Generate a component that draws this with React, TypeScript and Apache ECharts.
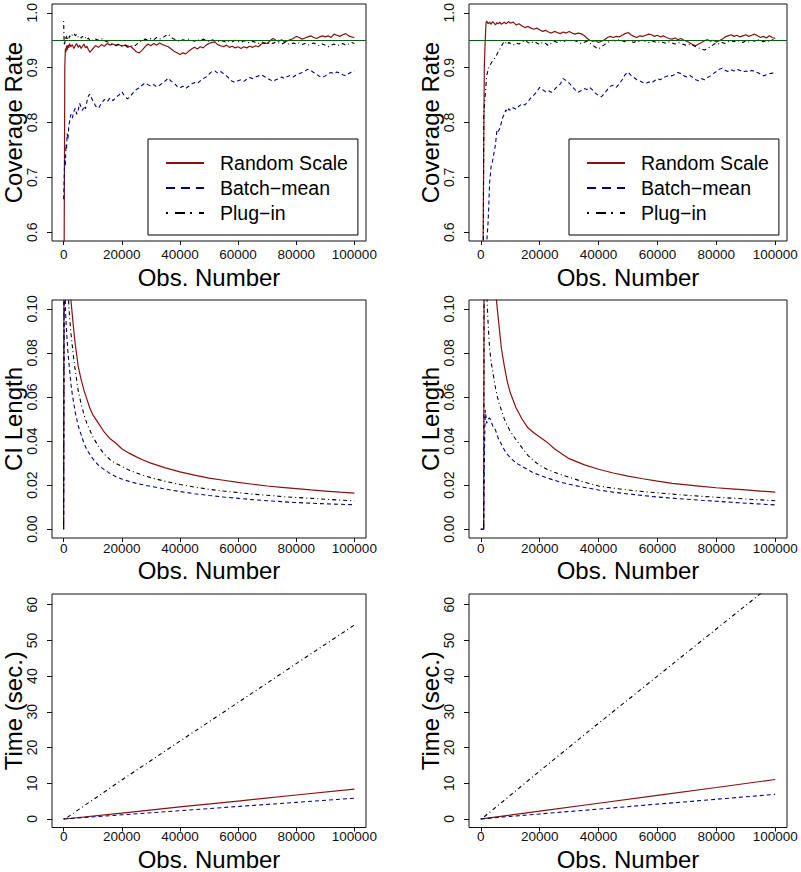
import React, { useEffect, useRef } from "react";
import * as echarts from "echarts";

// ---------- axes ----------
const xTicks = [0, 20000, 40000, 60000, 80000, 100000];
const coverageTicks = [0.6, 0.7, 0.8, 0.9, 1.0];
const ciTicks = [0, 0.02, 0.04, 0.06, 0.08, 0.1];
const timeTicks = [0, 10, 20, 30, 40, 50, 60];
const seriesNames = ["Random Scale", "Batch\u2212mean", "Plug\u2212in"];
const targetCoverage = 0.95;

// ---------- coverage panels ----------
const obsCoverage = [
  0, 200, 400, 600, 800, 1000, 1200, 1500, 1800, 2000,
  2500, 3000, 3500, 4000, 4500, 5000, 5500, 6000, 6500, 7000,
  7500, 8000, 8500, 9000, 9500, 10000,
  11000, 12000, 13000, 14000, 15000, 16000, 17000, 18000, 19000, 20000,
  21000, 22000, 23000, 24000, 25000, 26000, 27000, 28000, 29000, 30000,
  31000, 32000, 33000, 34000, 35000, 36000, 37000, 38000, 39000, 40000,
  41000, 42000, 43000, 44000, 45000, 46000, 47000, 48000, 49000, 50000,
  51000, 52000, 53000, 54000, 55000, 56000, 57000, 58000, 59000, 60000,
  61000, 62000, 63000, 64000, 65000, 66000, 67000, 68000, 69000, 70000,
  71000, 72000, 73000, 74000, 75000, 76000, 77000, 78000, 79000, 80000,
  81000, 82000, 83000, 84000, 85000, 86000, 87000, 88000, 89000, 90000,
  91000, 92000, 93000, 94000, 95000, 96000, 97000, 98000, 99000, 100000,
];

const covLeftRandomScale = [
  0.40, 0.60, 0.90, 0.935, 0.928, 0.940, 0.932, 0.941, 0.936, 0.944,
  0.938, 0.942, 0.935, 0.940, 0.944, 0.937, 0.941, 0.935, 0.939, 0.943,
  0.936, 0.939, 0.933, 0.928, 0.931, 0.934,
  0.940, 0.937, 0.942, 0.939, 0.944, 0.941, 0.943, 0.940, 0.942, 0.939,
  0.941, 0.937, 0.939, 0.934, 0.929, 0.927, 0.932, 0.938, 0.943, 0.940,
  0.944, 0.941, 0.945, 0.942, 0.940, 0.938, 0.934, 0.930, 0.927, 0.924,
  0.927, 0.925, 0.930, 0.934, 0.937, 0.934, 0.938, 0.936, 0.941, 0.944,
  0.946, 0.947, 0.942, 0.940, 0.938, 0.941, 0.937, 0.939, 0.936, 0.938,
  0.935, 0.938, 0.936, 0.939, 0.937, 0.940, 0.938, 0.943, 0.945, 0.944,
  0.949, 0.953, 0.950, 0.948, 0.951, 0.947, 0.949, 0.951, 0.953, 0.957,
  0.955, 0.952, 0.954, 0.956, 0.958, 0.955, 0.953, 0.956, 0.958, 0.956,
  0.958, 0.955, 0.961, 0.959, 0.957, 0.960, 0.962, 0.958, 0.956, 0.955,
];
const covLeftBatchMean = [
  0.66, 0.70, 0.74, 0.72, 0.76, 0.75, 0.78, 0.77, 0.795, 0.800,
  0.815, 0.808, 0.820, 0.826, 0.815, 0.822, 0.835, 0.828, 0.822, 0.830,
  0.825, 0.838, 0.848, 0.852, 0.846, 0.840,
  0.830, 0.826, 0.835, 0.842, 0.838, 0.845, 0.840, 0.846, 0.850, 0.856,
  0.848, 0.843, 0.848, 0.855, 0.860, 0.863, 0.868, 0.872, 0.869, 0.866,
  0.869, 0.865, 0.868, 0.872, 0.876, 0.881, 0.875, 0.872, 0.866, 0.863,
  0.866, 0.862, 0.866, 0.870, 0.873, 0.871, 0.876, 0.880, 0.883, 0.888,
  0.893, 0.894, 0.890, 0.893, 0.889, 0.885, 0.880, 0.875, 0.873, 0.876,
  0.878, 0.875, 0.879, 0.882, 0.880, 0.883, 0.885, 0.887, 0.884, 0.881,
  0.878, 0.875, 0.878, 0.880, 0.883, 0.880, 0.884, 0.886, 0.883, 0.887,
  0.889, 0.891, 0.894, 0.897, 0.895, 0.891, 0.888, 0.884, 0.882, 0.885,
  0.889, 0.891, 0.889, 0.892, 0.890, 0.887, 0.885, 0.889, 0.892, 0.894,
];
const covLeftPlugIn = [
  0.985, 0.940, 0.945, 0.955, 0.950, 0.958, 0.952, 0.956, 0.953, 0.958,
  0.955, 0.960, 0.963, 0.958, 0.961, 0.956, 0.958, 0.954, 0.957, 0.953,
  0.955, 0.951, 0.954, 0.950, 0.952, 0.949,
  0.952, 0.950, 0.953, 0.949, 0.947, 0.945, 0.943, 0.941, 0.943, 0.940,
  0.942, 0.939, 0.941, 0.938, 0.942, 0.946, 0.950, 0.952, 0.950, 0.953,
  0.951, 0.955, 0.952, 0.954, 0.958, 0.961, 0.955, 0.952, 0.950, 0.948,
  0.951, 0.949, 0.952, 0.950, 0.948, 0.951, 0.949, 0.952, 0.950, 0.948,
  0.951, 0.949, 0.947, 0.950, 0.948, 0.946, 0.949, 0.947, 0.950, 0.948,
  0.946, 0.949, 0.947, 0.945, 0.948, 0.946, 0.944, 0.947, 0.945, 0.943,
  0.946, 0.944, 0.947, 0.945, 0.943, 0.946, 0.944, 0.942, 0.945, 0.943,
  0.945, 0.942, 0.944, 0.941, 0.943, 0.945, 0.942, 0.940, 0.943, 0.941,
  0.938, 0.941, 0.943, 0.940, 0.942, 0.944, 0.941, 0.943, 0.946, 0.944,
];

const covRightRandomScale = [
  0.30, 0.30, 0.30, 0.40, 0.58, 0.75, 0.90, 0.95, 0.982, 0.985,
  0.980, 0.983, 0.979, 0.984, 0.981, 0.978, 0.982, 0.980, 0.983, 0.979,
  0.981, 0.983, 0.980, 0.982, 0.984, 0.981,
  0.983, 0.978, 0.980, 0.976, 0.973, 0.975, 0.972, 0.970, 0.972, 0.969,
  0.966, 0.968, 0.965, 0.963, 0.966, 0.964, 0.962, 0.965, 0.963, 0.966,
  0.963, 0.961, 0.963, 0.962, 0.959, 0.954, 0.950, 0.948, 0.949, 0.946,
  0.948, 0.951, 0.955, 0.957, 0.955, 0.957, 0.956, 0.959, 0.962, 0.964,
  0.960, 0.957, 0.955, 0.958, 0.957, 0.959, 0.961, 0.960, 0.957, 0.959,
  0.956, 0.958, 0.955, 0.953, 0.952, 0.954, 0.951, 0.953, 0.950, 0.948,
  0.945, 0.942, 0.940, 0.943, 0.946, 0.949, 0.951, 0.948, 0.950, 0.947,
  0.949, 0.952, 0.956, 0.958, 0.960, 0.957, 0.959, 0.956, 0.958, 0.960,
  0.957, 0.959, 0.961, 0.958, 0.955, 0.957, 0.954, 0.958, 0.955, 0.953,
];
const covRightBatchMean = [
  0.30, 0.30, 0.30, 0.30, 0.30, 0.30, 0.30, 0.40, 0.50, 0.58,
  0.62, 0.69, 0.72, 0.73, 0.745, 0.76, 0.787, 0.784, 0.79, 0.80,
  0.81, 0.815, 0.823, 0.819, 0.825, 0.822,
  0.827, 0.824, 0.830, 0.834, 0.832, 0.838, 0.845, 0.850, 0.856, 0.864,
  0.860, 0.856, 0.858, 0.855, 0.860, 0.866, 0.870, 0.880, 0.876, 0.872,
  0.866, 0.860, 0.855, 0.858, 0.862, 0.860, 0.864, 0.859, 0.853, 0.849,
  0.847, 0.853, 0.860, 0.866, 0.868, 0.864, 0.870, 0.878, 0.887, 0.892,
  0.886, 0.882, 0.878, 0.876, 0.873, 0.871, 0.874, 0.872, 0.876, 0.880,
  0.878, 0.882, 0.884, 0.886, 0.885, 0.888, 0.891, 0.889, 0.885, 0.883,
  0.886, 0.882, 0.878, 0.876, 0.880, 0.878, 0.882, 0.885, 0.889, 0.893,
  0.897, 0.899, 0.895, 0.893, 0.896, 0.894, 0.897, 0.895, 0.892, 0.894,
  0.892, 0.895, 0.893, 0.891, 0.888, 0.885, 0.887, 0.889, 0.890, 0.890,
];
const covRightPlugIn = [
  0.30, 0.30, 0.30, 0.30, 0.45, 0.81, 0.83, 0.85, 0.87, 0.885,
  0.896, 0.903, 0.908, 0.912, 0.915, 0.920, 0.924, 0.930, 0.934, 0.939,
  0.944, 0.948, 0.945, 0.942, 0.946, 0.944,
  0.941, 0.945, 0.943, 0.947, 0.950, 0.946, 0.944, 0.948, 0.945, 0.942,
  0.946, 0.944, 0.940, 0.945, 0.948, 0.946, 0.949, 0.947, 0.950, 0.948,
  0.951, 0.949, 0.947, 0.944, 0.946, 0.948, 0.945, 0.941, 0.937, 0.934,
  0.938, 0.942, 0.946, 0.948, 0.950, 0.948, 0.951, 0.949, 0.947, 0.950,
  0.948, 0.946, 0.949, 0.947, 0.950, 0.948, 0.946, 0.949, 0.947, 0.945,
  0.948, 0.946, 0.944, 0.947, 0.945, 0.943, 0.946, 0.944, 0.942, 0.940,
  0.943, 0.941, 0.938, 0.936, 0.934, 0.932, 0.935, 0.938, 0.942, 0.945,
  0.943, 0.946, 0.944, 0.947, 0.949, 0.947, 0.950, 0.948, 0.946, 0.949,
  0.947, 0.950, 0.948, 0.951, 0.949, 0.947, 0.950, 0.948, 0.951, 0.949,
];

// ---------- CI length panels ----------
const obsCI = [
  0, 300, 600, 1000, 1200, 1500, 2000, 2500, 3000, 3500,
  4000, 5000, 6000, 7000, 8000, 9000, 10000, 12000, 14000, 16000,
  18000, 20000, 22500, 25000, 27500, 30000, 35000, 40000, 45000, 50000,
  55000, 60000, 65000, 70000, 75000, 80000, 85000, 90000, 95000, 100000,
];
const ciLeftRandomScale = [
  0, 0.30, 0.21, 0.164, 0.15, 0.134, 0.116, 0.104, 0.097, 0.090,
  0.084, 0.074, 0.068, 0.063, 0.059, 0.055, 0.052, 0.048, 0.044, 0.041,
  0.039, 0.0365, 0.0345, 0.0328, 0.0313, 0.030, 0.0278, 0.026, 0.0245, 0.0232,
  0.0222, 0.0212, 0.0204, 0.0196, 0.019, 0.0184, 0.0178, 0.0173, 0.0168, 0.0164,
];
const ciLeftBatchMean = [
  0, 0.16, 0.100, 0.090, 0.086, 0.080, 0.073, 0.066, 0.061, 0.057,
  0.053, 0.047, 0.043, 0.039, 0.036, 0.034, 0.032, 0.029, 0.027, 0.0252,
  0.0238, 0.0228, 0.0217, 0.0208, 0.0201, 0.0194, 0.0182, 0.0171, 0.0161, 0.0153,
  0.0146, 0.014, 0.0134, 0.0129, 0.0125, 0.0121, 0.0118, 0.0115, 0.0113, 0.0111,
];
const ciLeftPlugIn = [
  0, 0.24, 0.17, 0.13, 0.12, 0.108, 0.097, 0.089, 0.083, 0.077,
  0.072, 0.063, 0.057, 0.052, 0.048, 0.045, 0.042, 0.0375, 0.034, 0.0315,
  0.0298, 0.0285, 0.0268, 0.0255, 0.0244, 0.0234, 0.0217, 0.0203, 0.0191, 0.0181,
  0.0173, 0.0166, 0.0159, 0.0154, 0.0148, 0.0144, 0.014, 0.0136, 0.0132, 0.0129,
];
const ciRightRandomScale = [
  0, 0, 0, 0, 0.20, 0.25, 0.22, 0.19, 0.165, 0.145,
  0.13, 0.108, 0.095, 0.082, 0.074, 0.067, 0.062, 0.055, 0.050, 0.046,
  0.0438, 0.0418, 0.0395, 0.0365, 0.0342, 0.032, 0.0293, 0.0272, 0.0255, 0.0241,
  0.0229, 0.0218, 0.0208, 0.0201, 0.0194, 0.0188, 0.0183, 0.0178, 0.0173, 0.0168,
];
const ciRightBatchMean = [
  0, 0, 0, 0, 0.03, 0.054, 0.048, 0.050, 0.0505, 0.049,
  0.047, 0.045, 0.041, 0.0385, 0.036, 0.034, 0.0325, 0.030, 0.0285, 0.027,
  0.0255, 0.0245, 0.0233, 0.0222, 0.0212, 0.0204, 0.019, 0.0178, 0.0168, 0.016,
  0.0153, 0.0146, 0.0141, 0.0136, 0.0131, 0.0127, 0.0122, 0.0118, 0.0114, 0.011,
];
const ciRightPlugIn = [
  0, 0, 0, 0, 0.20, 0.15, 0.108, 0.093, 0.082, 0.076,
  0.072, 0.064, 0.058, 0.054, 0.050, 0.047, 0.0445, 0.0405, 0.037, 0.0335,
  0.031, 0.029, 0.0272, 0.0258, 0.0247, 0.0236, 0.0214, 0.0196, 0.0186, 0.0178,
  0.0171, 0.0165, 0.0159, 0.0154, 0.0149, 0.0145, 0.0141, 0.0137, 0.0133, 0.0129,
];

// ---------- time panels ----------
const obsTime = [0, 1000, 20000, 40000, 60000, 80000, 100000];
const timeLeftRandomScale = [0, 0.05, 1.65, 3.35, 5.0, 6.7, 8.35];
const timeLeftBatchMean = [0, 0.03, 1.15, 2.3, 3.5, 4.65, 5.8];
const timeLeftPlugIn = [0, 0.3, 10.9, 21.8, 32.6, 43.5, 54.3];
const timeRightRandomScale = [0, 0.1, 2.2, 4.4, 6.6, 8.8, 11.05];
const timeRightBatchMean = [0, 0.07, 1.4, 2.75, 4.15, 5.5, 6.9];
const timeRightPlugIn = [0, 0.5, 13.4, 26.8, 40.0, 53.2, 66.4];

// ---------- styles ----------
const RED = "#861212";
const BLUE = "#00008B";
const BLACK = "#000000";
const GREEN = "#0B5E0B";
const FONT = "'Liberation Sans', Arial, Helvetica, sans-serif";

const lineStyles = [
  { color: RED, width: 1.2, type: "solid" as any },
  { color: BLUE, width: 1.1, type: [4, 3] as any },
  { color: BLACK, width: 1.1, type: [1, 3, 4, 3] as any },
];
const legendStyles = [
  { width: 2, type: "solid" as any },
  { width: 2, type: [9, 6] as any },
  { width: 2, type: [2, 7, 10, 5] as any },
];

function pairs(xs: number[], ys: number[]) {
  return xs.map((x, i) => [x, ys[i]]);
}

type Panel = {
  grid: { left: number; top: number; width: number; height: number };
  yName: string;
  yMin: number;
  yMax: number;
  yTicks: number[];
  yDigits: number;
  xLabelMargin: number;
  xNameGap: number;
  obs: number[];
  values: number[][];
  target: boolean;
};

const panels: Panel[] = [
  {
    grid: { left: 48, top: 4, width: 318, height: 237 },
    yName: "Coverage Rate", yMin: 0.584, yMax: 1.016, yTicks: coverageTicks, yDigits: 1,
    xLabelMargin: 7.5, xNameGap: 29, obs: obsCoverage,
    values: [covLeftRandomScale, covLeftBatchMean, covLeftPlugIn], target: true,
  },
  {
    grid: { left: 469, top: 4, width: 318, height: 237 },
    yName: "Coverage Rate", yMin: 0.584, yMax: 1.016, yTicks: coverageTicks, yDigits: 1,
    xLabelMargin: 7.5, xNameGap: 29, obs: obsCoverage,
    values: [covRightRandomScale, covRightBatchMean, covRightPlugIn], target: true,
  },
  {
    grid: { left: 48, top: 300, width: 318, height: 238 },
    yName: "CI Length", yMin: -0.004, yMax: 0.104, yTicks: ciTicks, yDigits: 2,
    xLabelMargin: 4, xNameGap: 25.5, obs: obsCI,
    values: [ciLeftRandomScale, ciLeftBatchMean, ciLeftPlugIn], target: false,
  },
  {
    grid: { left: 469, top: 300, width: 318, height: 238 },
    yName: "CI Length", yMin: -0.004, yMax: 0.104, yTicks: ciTicks, yDigits: 2,
    xLabelMargin: 4, xNameGap: 25.5, obs: obsCI,
    values: [ciRightRandomScale, ciRightBatchMean, ciRightPlugIn], target: false,
  },
  {
    grid: { left: 48, top: 594, width: 318, height: 238 },
    yName: "Time (sec.)", yMin: -2.4, yMax: 63, yTicks: timeTicks, yDigits: 0,
    xLabelMargin: 3, xNameGap: 24.5, obs: obsTime,
    values: [timeLeftRandomScale, timeLeftBatchMean, timeLeftPlugIn], target: false,
  },
  {
    grid: { left: 469, top: 594, width: 318, height: 238 },
    yName: "Time (sec.)", yMin: -2.4, yMax: 63, yTicks: timeTicks, yDigits: 0,
    xLabelMargin: 3, xNameGap: 24.5, obs: obsTime,
    values: [timeRightRandomScale, timeRightBatchMean, timeRightPlugIn], target: false,
  },
];

function legendAt(left: number, top: number) {
  return {
    show: true,
    orient: "vertical",
    left,
    top,
    padding: [14, 10, 12, 17],
    itemWidth: 38,
    itemHeight: 14,
    itemGap: 5,
    borderColor: "#000",
    borderWidth: 1,
    borderRadius: 0,
    backgroundColor: "#fff",
    selectedMode: false,
    textStyle: { fontSize: 19.5, color: "#000", fontFamily: FONT, padding: [0, 0, 0, 11] },
    data: seriesNames.map((name, k) => ({
      name,
      lineStyle: legendStyles[k],
      itemStyle: { opacity: 0 },
    })),
  };
}

function buildOption() {
  const grid: any[] = [];
  const xAxis: any[] = [];
  const yAxis: any[] = [];
  const series: any[] = [];

  panels.forEach((p, i) => {
    grid.push({
      ...p.grid,
      show: true,
      borderColor: "#111",
      borderWidth: 1,
      backgroundColor: "transparent",
      containLabel: false,
    });
    xAxis.push({
      type: "value",
      gridIndex: i,
      min: -4000,
      max: 104000,
      axisLine: { show: false, onZero: false },
      splitLine: { show: false },
      axisTick: {
        show: true, length: 4, inside: false, customValues: xTicks,
        lineStyle: { color: "#111", width: 1 },
      },
      axisLabel: {
        show: true, customValues: xTicks, margin: p.xLabelMargin, fontSize: 13.5,
        lineHeight: 12, color: "#111", fontFamily: FONT,
        formatter: (v: number) => String(v),
      },
      name: "Obs. Number",
      nameLocation: "middle",
      nameGap: p.xNameGap,
      nameMoveOverlap: false,
      nameTextStyle: { fontSize: 24, lineHeight: 14, color: "#000", fontFamily: FONT },
    });
    yAxis.push({
      type: "value",
      gridIndex: i,
      min: p.yMin,
      max: p.yMax,
      axisLine: { show: false, onZero: false },
      splitLine: { show: false },
      axisTick: {
        show: true, length: 5, inside: false, customValues: p.yTicks,
        lineStyle: { color: "#111", width: 1 },
      },
      axisLabel: {
        show: true, customValues: p.yTicks, margin: 13, fontSize: 14, rotate: 90,
        color: "#111", fontFamily: FONT,
        formatter: (v: number) => Number(v).toFixed(p.yDigits),
      },
      name: p.yName,
      nameLocation: "middle",
      nameGap: 27,
      nameMoveOverlap: false,
      nameTextStyle: { fontSize: 24, color: "#000", fontFamily: FONT },
    });
    p.values.forEach((vals, k) => {
      const s: any = {
        type: "line",
        name: seriesNames[k],
        xAxisIndex: i,
        yAxisIndex: i,
        data: pairs(p.obs, vals),
        symbol: "none",
        showSymbol: false,
        clip: true,
        silent: true,
        lineStyle: lineStyles[k],
        itemStyle: { color: lineStyles[k].color },
        emphasis: { disabled: true },
        z: 2 + k,
      };
      if (p.target && k === 2) {
        s.markLine = {
          silent: true,
          symbol: ["none", "none"],
          label: { show: false },
          lineStyle: { color: GREEN, width: 1.2, type: "solid" },
          emphasis: { disabled: true },
          data: [{ yAxis: targetCoverage }],
        };
      }
      series.push(s);
    });
  });

  return {
    animation: false,
    backgroundColor: "#fff",
    textStyle: { fontFamily: FONT },
    tooltip: { show: false },
    legend: [legendAt(148, 139), legendAt(569, 139)],
    grid,
    xAxis,
    yAxis,
    series,
  };
}

export default function App() {
  const ref = useRef<HTMLDivElement>(null);
  useEffect(() => {
    if (!ref.current) return;
    const chart = echarts.init(ref.current, null, { renderer: "svg" });
    chart.setOption(buildOption() as any);
    return () => chart.dispose();
  }, []);
  return (
    <div
      ref={ref}
      style={{ position: "absolute", left: 0, top: 0, width: 801, height: 872, background: "#fff" }}
    />
  );
}
